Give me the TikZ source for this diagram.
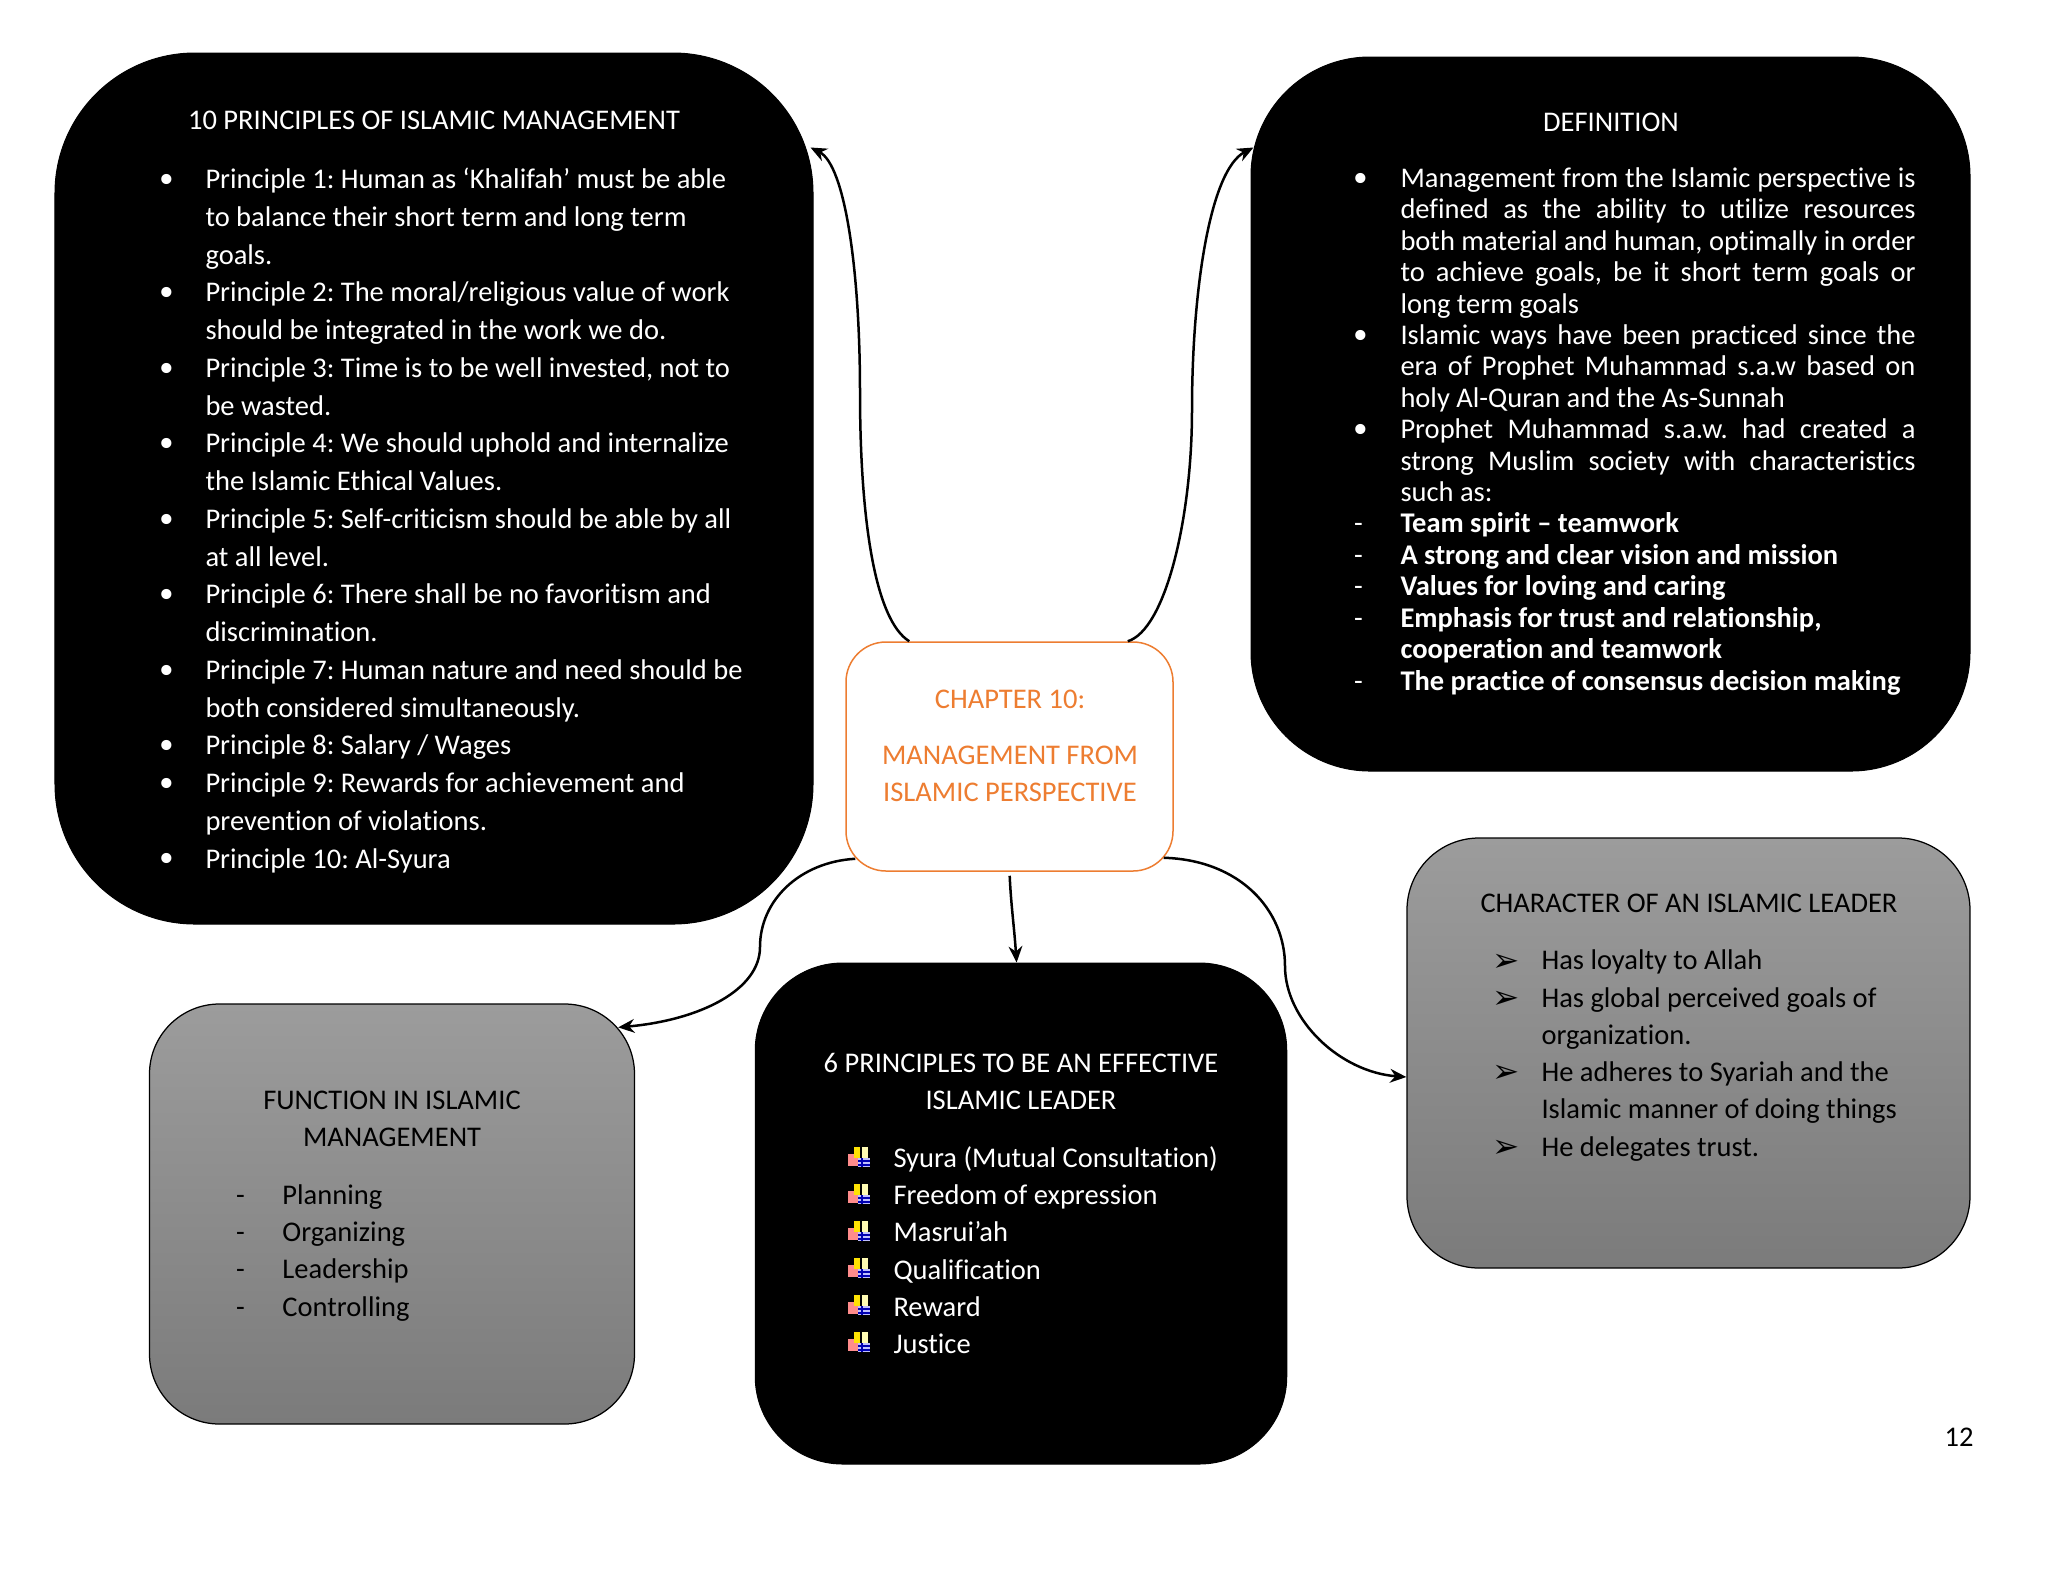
\documentclass[tikz,border=0pt]{standalone}
\usepackage{fontspec}
\setmainfont[Ligatures=CommonOff]{Carlito}
\newfontfamily\symfont{DejaVu Sans}
\usetikzlibrary{arrows.meta}

\newcommand{\itemmark}[2]{\noindent\llap{\makebox[0pt]{#1}\hspace{#2}}}
\newcommand{\dotmark}[1]{\itemmark{\raisebox{-1.5pt}{\symfont\fontsize{14}{14}\selectfont •}}{#1}}
\newcommand{\arrowmark}{\itemmark{\raisebox{-.5pt}{\symfont\fontsize{13}{13}\selectfont ➢}}{14pt}}
\newcommand{\dashmark}{\itemmark{-}{16.8pt}}

\begin{document}
\frenchspacing
\begin{tikzpicture}[
  x=.4pt, y=-.4pt,
  basefont/.style={font=\frenchspacing\fontsize{11.4}{14.9}\selectfont},
  widefont/.style={font=\frenchspacing\fontsize{11.4}{15.1}\selectfont},
  darkbox/.style={draw=black, fill=black, rounded corners=#1},
  greybox/.style={draw=black, line width=.5pt, rounded corners=#1, top color=grey1, bottom color=grey2},
  headtext/.style={basefont, align=center, inner sep=0pt},
  listtext/.style={basefont, align=left, anchor=north west, inner sep=0pt},
  conn/.style={-{Stealth[length=6.5pt,width=5.5pt]}, line width=1pt},
  pics/wingbullet/.style={code={
    \fill[red!45!white] (-11,-3) rectangle (-1,9);
    \fill[yellow!85!orange] (-5,-10) rectangle (1,1);
    \fill[yellow!30!white] (3,-10) rectangle (9,1);
    \fill[blue!25!white] (-1,1) rectangle (11,10);
    \fill[blue!70!black] (-1,3) rectangle (11,4.5);
    \fill[blue!70!black] (-1,7) rectangle (11,8.5);
    \fill[blue!70!black] (2,1) rectangle (4,10);
  }}
]
  \definecolor{grey1}{HTML}{9C9C9C}
  \definecolor{grey2}{HTML}{7B7B7B}
  \definecolor{chapterorange}{HTML}{ED7D31}
  \useasboundingbox (0,0) rectangle (2048,1582);

  \node[darkbox=56pt, minimum width=303.2pt, minimum height=348.4pt] (principles) at (434,488.5) {};
  \node[darkbox=47.6pt, minimum width=287.6pt, minimum height=285.6pt] (definition) at (1610.5,414) {};
  \node[draw=chapterorange, line width=.6pt, rounded corners=16pt, minimum width=130.8pt, minimum height=91.6pt] (chapter) at (1009.5,756.5) {};
  \node[greybox=28pt, minimum width=194pt, minimum height=168pt] (function) at (392,1214) {};
  \node[darkbox=35pt, minimum width=212.6pt, minimum height=200.4pt] (leaders) at (1021,1213.5) {};
  \node[greybox=28.8pt, minimum width=225.2pt, minimum height=172pt] (character) at (1688.5,1053) {};

  % headings
  \node[headtext, text=white] (principleshead) at (434,120) {10 PRINCIPLES OF ISLAMIC MANAGEMENT};
  \node[headtext, text=white] (definitionhead) at (1611,122) {DEFINITION};
  \node[headtext, text=chapterorange] (chaptertext) at (1010,746) {CHAPTER 10:\\[7.6pt]MANAGEMENT FROM\\ISLAMIC PERSPECTIVE};
  \node[headtext] (functionhead) at (392,1119) {FUNCTION IN ISLAMIC\\MANAGEMENT};
  \node[headtext, text=white] (leadershead) at (1021,1081.5) {6 PRINCIPLES TO BE AN EFFECTIVE\\ISLAMIC LEADER};
  \node[headtext] (characterhead) at (1689,903) {CHARACTER OF AN ISLAMIC LEADER};

  % lists
  \node[listtext, widefont, text=white] (principleslist) at (205,167.5) {%
    \dotmark{15.6pt}Principle 1: Human as ‘Khalifah’ must be able\\
    to balance their short term and long term\\
    goals.\\
    \dotmark{15.6pt}Principle 2: The moral/religious value of work\\
    should be integrated in the work we do.\\
    \dotmark{15.6pt}Principle 3: Time is to be well invested, not to\\
    be wasted.\\
    \dotmark{15.6pt}Principle 4: We should uphold and internalize\\
    the Islamic Ethical Values.\\
    \dotmark{15.6pt}Principle 5: Self-criticism should be able by all\\
    at all level.\\
    \dotmark{15.6pt}Principle 6: There shall be no favoritism and\\
    discrimination.\\
    \dotmark{15.6pt}Principle 7: Human nature and need should be\\
    both considered simultaneously.\\
    \dotmark{15.6pt}Principle 8: Salary / Wages\\
    \dotmark{15.6pt}Principle 9: Rewards for achievement and\\
    prevention of violations.\\
    \dotmark{15.6pt}Principle 10: Al-Syura};

  \node[basefont, text=white, text width=206pt, align=justify, anchor=north west, inner sep=0pt] (definitionlist) at (1400,167) {%
    \fontsize{11.4}{12.57}\selectfont
    \dotmark{16pt}Management from the Islamic perspective is\linebreak
    defined as the ability to utilize resources\linebreak
    both material and human, optimally in order\linebreak
    to achieve goals, be it short term goals or\linebreak
    long term goals\par
    \dotmark{16pt}Islamic ways have been practiced since the\linebreak
    era of Prophet Muhammad s.a.w based on\linebreak
    holy Al-Quran and the As-Sunnah\par
    \dotmark{16pt}Prophet Muhammad s.a.w. had created a\linebreak
    strong Muslim society with characteristics\linebreak
    such as:\par
    \dashmark\textbf{Team spirit – teamwork}\par
    \dashmark\textbf{A strong and clear vision and mission}\par
    \dashmark\textbf{Values for loving and caring}\par
    \dashmark\textbf{Emphasis for trust and relationship,}\newline
    \textbf{cooperation and teamwork}\par
    \dashmark\textbf{The practice of consensus decision making}\par};

  \node[listtext] (functionlist) at (282,1184) {%
    \dashmark Planning\\
    \dashmark Organizing\\
    \dashmark Leadership\\
    \dashmark Controlling};

  \node[listtext, text=white] (leaderslist) at (893,1146) {%
    Syura (Mutual Consultation)\\
    Freedom of expression\\
    Masrui’ah\\
    Qualification\\
    Reward\\
    Justice};

  \node[listtext] (characterlist) at (1541,949.5) {%
    \arrowmark Has loyalty to Allah\\
    \arrowmark Has global perceived goals of\\
    organization.\\
    \arrowmark He adheres to Syariah and the\\
    Islamic manner of doing things\\
    \arrowmark He delegates trust.};

  \foreach \y in {1157,1194,1231,1268,1305,1342}
    \pic at (859,\y) {wingbullet};

  \node[basefont, inner sep=0pt] (pagenumber) at (1959,1437) {12};

  % connectors
  \coordinate (upleft) at (860,392);
  \coordinate (upright) at (1192,410);
  \coordinate (downleft) at (760,947);
  \coordinate (downright) at (1285,966);

  \draw[conn] ([xshift=25.6pt]chapter.north west) .. controls (875,620) and (860,520) .. (upleft)
    .. controls (860,270) and (845,165) .. ([xshift=-1.2pt,yshift=-38pt]principles.north east);
  \draw[conn] ([xshift=-18.4pt]chapter.north east) .. controls (1165,630) and (1192,520) .. (upright)
    .. controls (1192,290) and (1210,170) .. ([xshift=1.2pt,yshift=-36.4pt]definition.north west);
  \draw[conn] ([xshift=4pt,yshift=5.2pt]chapter.south west) .. controls (800,862) and (760,900) .. (downleft)
    .. controls (760,990) and (700,1020) .. ([xshift=-6.8pt,yshift=-9.6pt]function.north east);
  \draw[conn, shorten <=1.6pt] (chapter.south) .. controls (1011,905) and (1014,925) .. (leaders.91.4);
  \draw[conn] ([xshift=-4pt,yshift=5.6pt]chapter.south east) .. controls (1240,860) and (1285,910) .. (downright)
    .. controls (1285,1020) and (1340,1072) .. ([yshift=-9.6pt]character.west);
\end{tikzpicture}
\end{document}
